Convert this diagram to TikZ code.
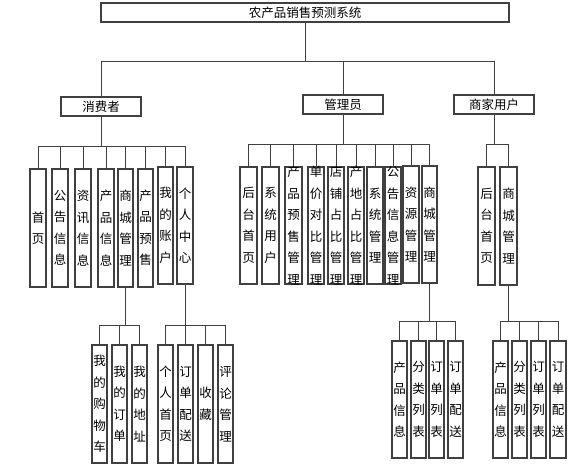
\documentclass[tikz,border=0pt]{standalone}
\usepackage{fontspec}
\newfontfamily\cjk{Noto Sans CJK SC}
\tikzset{
  ln/.style={draw=black!75, line width=1pt},
  hbox/.style={draw=black!75, line width=1.1pt, fill=white, inner sep=0pt, font=\cjk\fontsize{12.5}{15}\selectfont},
  vbox/.style={draw=black!75, line width=1.1pt, fill=white, inner sep=0pt},
  vtext/.style={inner sep=0pt, align=center, font=\cjk\fontsize{12.5}{21.5}\selectfont},
}
% #1 name, #2 left, #3 right, #4 top, #5 bottom, #6 text
\newcommand\mkh[6]{\node[hbox, minimum width={#3-#2}, minimum height={#5-#4}] (#1) at ({(#2+#3)/2},{(#4+#5)/2}) {#6};}
\newcommand\mkv[6]{\node[vbox, minimum width={#3-#2}, minimum height={#5-#4}] (#1) at ({(#2+#3)/2},{(#4+#5)/2}) {};
  \node[vtext] (#1t) at (#1.center) {#6};}
% parent, child, bar coordinate
\newcommand\conn[3]{\draw[ln] (#1.south) |- (#2.north |- #3) -- (#2.north);}
\begin{document}
\begin{tikzpicture}[x=1pt,y=-1pt]
\useasboundingbox (0,0) rectangle (578,470);
% bar levels
\coordinate (b0) at (0,62);
\coordinate (b1) at (0,147);
\coordinate (b2) at (0,145);
\coordinate (b3) at (0,145);
\coordinate (b4) at (0,325);
\coordinate (b5) at (0,325);
\coordinate (b6) at (0,321);
\coordinate (b7) at (0,321);
% root and first level
\mkh{root}{101}{509}{3}{22}{农产品销售预测系统}
\mkh{xf}{61}{141}{97}{116}{消费者}
\mkh{gl}{303}{383}{95}{114}{管理员}
\mkh{sj}{454}{534}{95}{114}{商家用户}
% consumer children
\mkv{x1}{30}{46}{169}{287}{首\\页}
\mkv{x2}{52}{68}{169}{287}{公\\告\\信\\息}
\mkv{x3}{75}{91}{169}{287}{资\\讯\\信\\息}
\mkv{x4}{98}{114}{169}{287}{产\\品\\信\\息}
\mkv{x5}{118}{133}{169}{287}{商\\城\\管\\理}
\mkv{x6}{138}{153}{169}{287}{产\\品\\预\\售}
\mkv{x7}{158}{173}{167}{284}{我\\的\\账\\户}
\mkv{x8}{177}{193}{167}{284}{个\\人\\中\\心}
% admin children
\mkv{a1}{240}{257}{167}{284}{后\\台\\首\\页}
\mkv{a2}{262}{279}{167}{284}{系\\统\\用\\户}
\mkv{a3}{285}{302}{167}{284}{产\\品\\预\\售\\管\\理}
\mkv{a4}{308}{324}{167}{284}{单\\价\\对\\比\\管\\理}
\mkv{a5}{328}{344}{167}{284}{店\\铺\\占\\比\\管\\理}
\mkv{a6}{348}{364}{167}{284}{产\\地\\占\\比\\管\\理}
\mkv{a7}{367}{383}{167}{284}{系\\统\\管\\理}
\mkv{a8}{385}{401}{167}{284}{公\\告\\信\\息\\管\\理}
\mkv{a9}{403}{419}{166}{283}{资\\源\\管\\理}
\mkv{a10}{422}{437}{166}{283}{商\\城\\管\\理}
% merchant children
\mkv{s1}{478}{495}{167}{285}{后\\台\\首\\页}
\mkv{s2}{500}{517}{167}{285}{商\\城\\管\\理}
% third level
\mkv{m1}{92}{107}{345}{463}{我\\的\\购\\物\\车}
\mkv{m2}{112}{127}{345}{463}{我\\的\\订\\单}
\mkv{m3}{132}{147}{345}{463}{我\\的\\地\\址}
\mkv{p1}{158}{173}{345}{463}{个\\人\\首\\页}
\mkv{p2}{178}{193}{345}{463}{订\\单\\配\\送}
\mkv{p3}{198}{213}{345}{463}{收\\藏}
\mkv{p4}{218}{233}{345}{463}{评\\论\\管\\理}
\mkv{g1}{392}{407}{341}{458}{产\\品\\信\\息}
\mkv{g2}{411}{426}{341}{458}{分\\类\\列\\表}
\mkv{g3}{429}{444}{341}{458}{订\\单\\列\\表}
\mkv{g4}{448}{463}{341}{458}{订\\单\\配\\送}
\mkv{h1}{493}{508}{341}{458}{产\\品\\信\\息}
\mkv{h2}{512}{527}{341}{458}{分\\类\\列\\表}
\mkv{h3}{531}{546}{341}{458}{订\\单\\列\\表}
\mkv{h4}{550}{566}{341}{458}{订\\单\\配\\送}
% connectors
\foreach \c in {xf,gl,sj} {\conn{root}{\c}{b0}}
\foreach \c in {x1,x2,x3,x4,x5,x6,x7,x8} {\conn{xf}{\c}{b1}}
\foreach \c in {a1,a2,a3,a4,a5,a6,a7,a8,a9,a10} {\conn{gl}{\c}{b2}}
\foreach \c in {s1,s2} {\conn{sj}{\c}{b3}}
\foreach \c in {m1,m2,m3} {\conn{x5}{\c}{b4}}
\foreach \c in {p1,p2,p3,p4} {\conn{x8}{\c}{b5}}
\foreach \c in {g1,g2,g3,g4} {\conn{a10}{\c}{b6}}
\foreach \c in {h1,h2,h3,h4} {\conn{s2}{\c}{b7}}
\end{tikzpicture}
\end{document}
